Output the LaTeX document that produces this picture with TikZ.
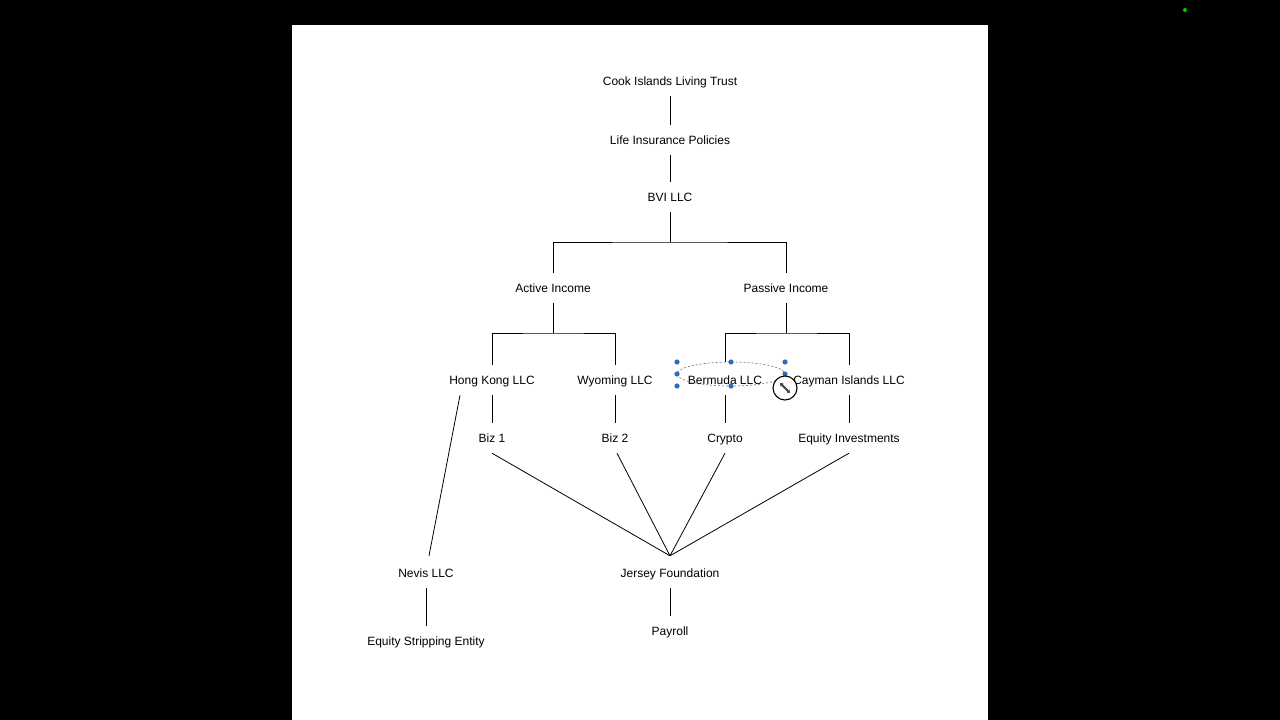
\documentclass[tikz,border=0pt]{standalone}
\usepackage{fontspec}
\setmainfont{Liberation Sans}
\usetikzlibrary{arrows.meta}
\definecolor{handle}{HTML}{2F6EB0}
\begin{document}
\begin{tikzpicture}[x=1pt,y=-1pt,
  lbl/.style={font=\fontsize{12}{14}\selectfont, inner sep=0pt, minimum height=30pt, text height=10pt, text depth=2pt},
  ln/.style={draw=black, line width=0.8pt},
  hnd/.style={fill=handle, draw=none}]
\useasboundingbox (0,0) rectangle (1280,720);
\fill[black] (0,0) rectangle (1280,720);
\fill[white] (292,25) rectangle (988,720);
\fill[green!80!black] (1185,10) circle (2);

% selection ellipse (behind text)
\draw[gray, line width=0.7pt, dash pattern=on 2pt off 2pt] (731,374) ellipse [x radius=54, y radius=12];

\node[lbl] (cook) at (670,81) {Cook Islands Living Trust};
\node[lbl] (life) at (670,140) {Life Insurance Policies};
\node[lbl] (bvi) at (670,197) {BVI LLC};
\node[lbl] (active) at (553,288) {Active Income};
\node[lbl] (passive) at (786,288) {Passive Income};
\node[lbl] (hk) at (492,380) {Hong Kong LLC};
\node[lbl] (wy) at (615,380) {Wyoming LLC};
\node[lbl] (bm) at (725,380) {Bermuda LLC};
\node[lbl] (cay) at (849,380) {Cayman Islands LLC};
\node[lbl] (biz1) at (492,438) {Biz 1};
\node[lbl] (biz2) at (615,438) {Biz 2};
\node[lbl] (crypto) at (725,438) {Crypto};
\node[lbl] (eqinv) at (849,438) {Equity Investments};
\node[lbl] (nevis) at (426,573) {Nevis LLC};
\node[lbl] (strip) at (426,641) {Equity Stripping Entity};
\node[lbl] (jersey) at (670,573) {Jersey Foundation};
\node[lbl] (payroll) at (670,631) {Payroll};

\coordinate (j1) at (670,242);
\coordinate (j2) at (553,333);
\coordinate (j3) at (786,333);

\draw[ln] (cook.south) -- (life.north);
\draw[ln] (life.south) -- (bvi.north);
\draw[ln] (bvi.south) -- (j1);
\draw[ln] (active.north) |- (j1) -| (passive.north);
\draw[ln] (active.south) -- (j2);
\draw[ln] (hk.north) |- (j2) -| (wy.north);
\draw[ln] (passive.south) -- (j3);
\draw[ln] ([yshift=3]bm.north) |- (j3) -| (cay.north);
\draw[ln] (hk.south) -- (biz1.north);
\draw[ln] (wy.south) -- (biz2.north);
\draw[ln] (bm.south) -- (crypto.north);
\draw[ln] (cay.south) -- (eqinv.north);
\draw[ln] (biz1.south) -- ([yshift=2]jersey.north);
\draw[ln] ([xshift=2]biz2.south) -- ([yshift=2]jersey.north);
\draw[ln] (crypto.south) -- ([yshift=2]jersey.north);
\draw[ln] (eqinv.south) -- ([yshift=2]jersey.north);
\draw[ln] ([xshift=-32]hk.south) -- ([xshift=3,yshift=2]nevis.north);
\draw[ln] (nevis.south) -- (strip.north);
\draw[ln] (jersey.south) -- (payroll.north);

% selection handles
\foreach \p in {(677,362),(731,362),(785,362),(677,374),(785,374),(677,386),(731,386)}
  \fill[hnd] \p circle (2.6);
% cursor
\draw[black, fill=white, line width=1.1pt] (785,388) circle (12);
\draw[black!75, line width=2pt, {Triangle[length=3pt,width=4pt]}-{Triangle[length=3pt,width=4pt]}] (780,383) -- (790,393);
\end{tikzpicture}
\end{document}
